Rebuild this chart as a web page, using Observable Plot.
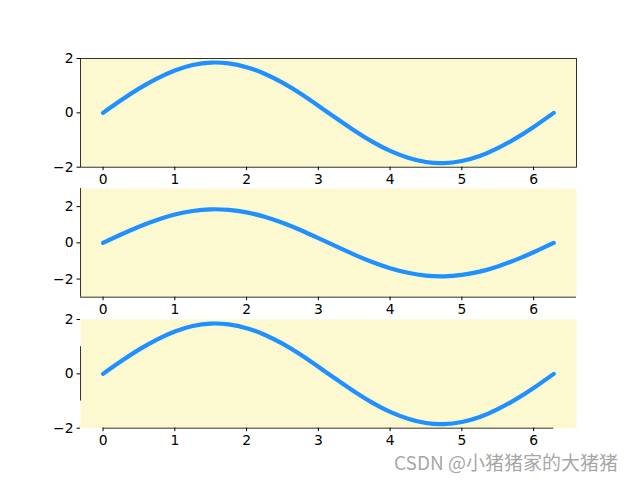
<!DOCTYPE html>
<html>
<head>
<meta charset="utf-8">
<script src="https://cdn.jsdelivr.net/npm/d3@7"></script>
<script src="https://cdn.jsdelivr.net/npm/@observablehq/plot@0.6"></script>
<style>
  body { margin: 0; background: #fff; }
  #wrap { position: relative; width: 640px; height: 480px; overflow: hidden; }
  .panel { position: absolute; left: 0; }
  #mark { position: absolute; left: 394px; top: 452px; font-family: "Noto Sans CJK SC", sans-serif; font-size: 19px; line-height: 1; color: rgba(150,150,150,0.85); white-space: nowrap; }
</style>
</head>
<body>
<div id="wrap"></div>
<script>
// Values (same curve drawn in each panel)
const xs = [0, 0.25, 0.5, 0.75, 1.0, 1.25, 1.5, 1.75, 2.0, 2.25, 2.5, 2.75, 3.0, 3.25, 3.5, 3.75, 4.0, 4.25, 4.5, 4.75, 5.0, 5.25, 5.5, 5.75, 6.0, 6.28];
const ys = [0, 0.46, 0.89, 1.26, 1.56, 1.76, 1.85, 1.82, 1.68, 1.44, 1.11, 0.71, 0.26, -0.20, -0.65, -1.06, -1.40, -1.65, -1.81, -1.85, -1.77, -1.59, -1.30, -0.94, -0.52, 0];
const xTicks = [0, 1, 2, 3, 4, 5, 6];
const yTicksA = [-2, 0, 2];
const xDomain = [-0.314, 6.597];
const yDomains = [[-2, 2], [-3, 3], [-2, 2]];
const spine3Y = [-1, 1];      // left spine bounds of panel 3
const spine3X = [0, 6.28];    // bottom spine bounds of panel 3
const panelTops = [57.6, 188.1, 318.5];

const data = xs.map((x, i) => ({x, y: ys[i]}));
const bg = "#fcf8d0";
const lineColor = "#1e90ff";
const fmt = d => d < 0 ? "\u2212" + Math.abs(d) : String(d);

const mt = 10, mb = 35, frameH = 108.7;
const wrap = document.getElementById("wrap");

function axes() {
  return [
    Plot.axisX({ticks: xTicks, tickSize: 3.5, tickPadding: 3.5, tickFormat: fmt, label: null}),
    Plot.axisY({ticks: yTicksA, tickSize: 3.5, tickPadding: 3.5, tickFormat: fmt, label: null})
  ];
}

for (let p = 0; p < 3; p++) {
  const yd = yDomains[p];
  const marks = [Plot.frame({fill: bg, stroke: "none"})];
  if (p === 0) {
    marks.push(Plot.frame({stroke: "black", strokeWidth: 0.8}));
  } else if (p === 1) {
    marks.push(Plot.ruleX([xDomain[0]], {stroke: "black", strokeWidth: 0.8}));
    marks.push(Plot.ruleY([yd[0]], {stroke: "black", strokeWidth: 0.8}));
  } else {
    marks.push(Plot.ruleX([xDomain[0]], {y1: spine3Y[0], y2: spine3Y[1], stroke: "black", strokeWidth: 0.8}));
    marks.push(Plot.ruleY([yd[0]], {x1: spine3X[0], x2: spine3X[1], stroke: "black", strokeWidth: 0.8}));
  }
  marks.push(Plot.line(data, {x: "x", y: "y", stroke: lineColor, strokeWidth: 4.2, curve: "natural"}));
  marks.push(...axes());
  const chart = Plot.plot({
    width: 640,
    height: frameH + mt + mb,
    marginLeft: 80, marginRight: 64, marginTop: mt, marginBottom: mb,
    x: {domain: xDomain},
    y: {domain: yd},
    style: {fontFamily: "DejaVu Sans", fontSize: "13.9px", color: "black", background: "transparent", overflow: "visible"},
    marks
  });
  chart.classList.add("panel");
  chart.style.top = (panelTops[p] - mt) + "px";
  wrap.appendChild(chart);
}

const wm = document.createElement("div");
wm.id = "mark";
wm.textContent = "CSDN @小猪猪家的大猪猪";
wrap.appendChild(wm);
</script>
</body>
</html>
